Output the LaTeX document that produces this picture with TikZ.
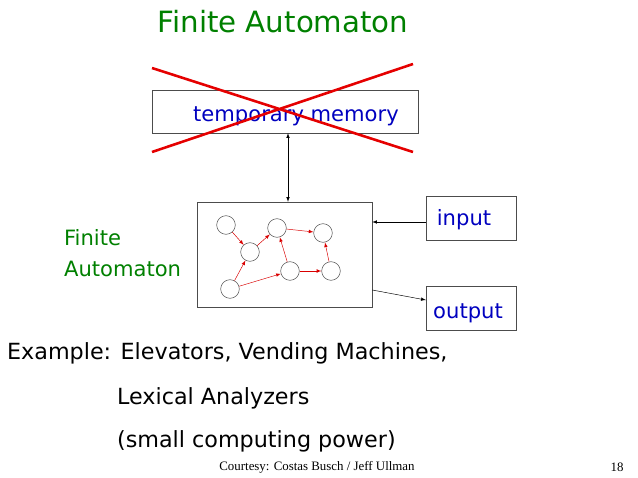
\documentclass[tikz,border=0pt]{standalone}
\usepackage{fontspec}
\setmainfont{DejaVu Sans}
\newfontfamily\serifx{Liberation Serif}
\begin{document}
\begin{tikzpicture}[x=0.03cm,y=-0.03cm,
  st/.style={circle,draw=black!70,fill=white,minimum size=0.56cm,inner sep=0},
  ed/.style={red!85!black,-latex},
  bx/.style={draw=black!70},
  blue/.style={text=blue!75!black},
  lbl/.style={anchor=west,font=\fontsize{19}{22}\selectfont}]
\useasboundingbox (0,0) rectangle (638,478);
\node[anchor=center,text=green!50!black,font=\fontsize{25}{28}\selectfont] (title) at (283,22) {Finite Automaton};
\node[bx,minimum width=7.98cm,minimum height=1.29cm] (mem) at (285,111.5) {};
\node[blue,font=\fontsize{18}{20}\selectfont] (memt) at (296,116) {temporary memory};
\coordinate (x1) at (152,68); \coordinate (x2) at (413,152);
\coordinate (x3) at (152,152); \coordinate (x4) at (413,64);
\draw[red!90!black,line width=2.2pt] (x1) -- (x2) (x3) -- (x4);
\node[bx,minimum width=5.25cm,minimum height=3.15cm] (fa) at (284.5,254.5) {};
\draw[latex-latex] (mem.south -| 288,0) -- (fa.north -| 288,0);
\node[st] (c1) at (226,225) {};
\node[st] (c2) at (250,252) {};
\node[st] (c3) at (277,228) {};
\node[st] (c4) at (323,233) {};
\node[st] (c5) at (290,271) {};
\node[st] (c6) at (331,271) {};
\node[st] (c7) at (230,289) {};
\draw[ed] (c1) -- (c2); \draw[ed] (c2) -- (c3); \draw[ed] (c3) -- (c4);
\draw[ed] (c7) -- (c2); \draw[ed] (c7) -- (c5); \draw[ed] (c5) -- (c3);
\draw[ed] (c5) -- (c6); \draw[ed] (c6) -- (c4);
\node[bx,minimum width=2.7cm,minimum height=1.32cm] (in) at (471,218) {};
\node[blue,font=\fontsize{18}{20}\selectfont] (int) at (464,220) {input};
\node[bx,minimum width=2.7cm,minimum height=1.32cm] (out) at (471,308) {};
\node[blue,font=\fontsize{18}{20}\selectfont] (outt) at (468,313) {output};
\draw[-latex] (in.west |- 0,222) -- (fa.east |- 0,222);
\draw[-latex] (fa.east |- 0,290) -- (out.west |- 0,300);
\node[anchor=west,align=left,text=green!50!black,font=\fontsize{18}{26}\selectfont] (fal) at (60,253) {Finite\\Automaton};
\node[lbl] (ex) at (3,353) {Example: Elevators, Vending Machines,};
\node[lbl] (la) at (113,398) {Lexical Analyzers};
\node[lbl] (sc) at (113,441) {(small computing power)};
\node[font=\serifx\fontsize{11}{13}\selectfont] (cr) at (317,467) {Courtesy: Costas Busch / Jeff Ullman};
\node[font=\serifx\fontsize{11}{13}\selectfont] (pg) at (617,467) {18};
\end{tikzpicture}
\end{document}
